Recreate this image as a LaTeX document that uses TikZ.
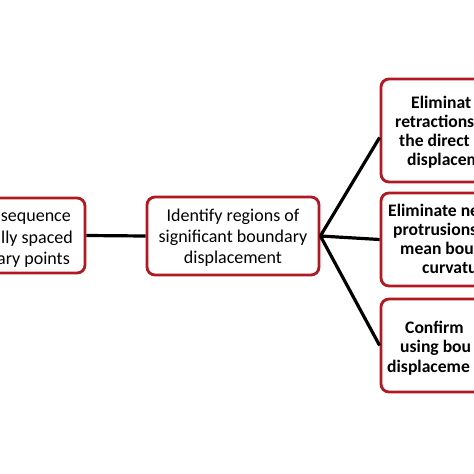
\documentclass[tikz,border=0pt]{standalone}
\usepackage{fontspec}
\setmainfont{Carlito}
\definecolor{boxred}{RGB}{176,24,34}
\begin{document}
\begin{tikzpicture}[x=1pt,y=-1pt,
  box/.style={draw=boxred, line width=2.8pt, rounded corners=8pt, fill=white, inner sep=0pt, rectangle},
  conn/.style={line width=3.2pt, black},
  lt/.style={font=\fontsize{18}{21}\selectfont, inner sep=0pt, text=black},
  rt/.style={font=\fontsize{17.6}{19}\selectfont\bfseries, inner sep=0pt, text=black}]
\useasboundingbox (0,0) rectangle (474,474);
\clip (0,0) rectangle (474,474);
\fill[white] (0,0) rectangle (474,474);
% boxes
\node[box, minimum width=145pt, minimum height=75pt] (L) at (12.5,235.5) {};
\node[box, minimum width=172pt, minimum height=78pt] (M) at (233,236) {};
\node[box, minimum width=159pt, minimum height=103pt] (R1) at (460.5,130.5) {};
\node[box, minimum width=159pt, minimum height=93pt] (R2) at (460.5,239.5) {};
\node[box, minimum width=159pt, minimum height=93pt] (R3) at (460.5,345.5) {};
% connectors
\draw[conn] (L.east) -- (M.west);
\draw[conn] (M.east) -- ([yshift=-7pt]R1.west);
\draw[conn] (M.east) -- (R2.west);
\draw[conn] (M.east) -- (R3.west);
% left box text
\node[lt, anchor=base east] (l1) at (71,221.5) {sequence};
\node[lt, anchor=base east] (l2) at (73,243) {lly spaced};
\node[lt, anchor=base east] (l3) at (70,264.5) {ary points};
% middle box text
\node[lt, anchor=base] (m1) at (233,221.5) {Identify regions of};
\node[lt, anchor=base] (m2) at (233,242.5) {significant boundary};
\node[lt, anchor=base] (m3) at (233,263.5) {displacement};
% right top
\node[rt, anchor=base west] (a1) at (411,108) {Eliminat};
\node[rt, anchor=base west] (a2) at (395,127) {retractions};
\node[rt, anchor=base west] (a3) at (399,146) {the direct};
\node[rt, anchor=base west] (a4) at (407,165) {displacem};
% right middle
\node[rt, anchor=base west] (b1) at (388,216) {Eliminate ne};
\node[rt, anchor=base west] (b2) at (393,235) {protrusions};
\node[rt, anchor=base west] (b3) at (400,254) {mean bou};
\node[rt, anchor=base west] (b4) at (422,273) {curvatu};
% right bottom
\node[rt, anchor=base west] (c1) at (405,333) {Confirm};
\node[rt, anchor=base west] (c2) at (400,352.5) {using bou};
\node[rt, anchor=base west] (c3) at (387,372) {displaceme};
\end{tikzpicture}
\end{document}
